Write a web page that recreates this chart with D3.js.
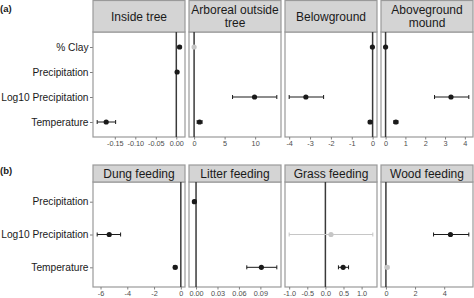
<!DOCTYPE html>
<html lang="en">
<head>
<meta charset="UTF-8">
<title>Effect estimates</title>
<style>
    body { margin: 0; background: #fff; }
    svg { display: block; font-family: "Liberation Sans", Arial, sans-serif; }
    .axis path { display: none; }
    .axis line { stroke: #7f7f7f; }
    .xaxis text { font-size: 7.3px; fill: #4d4d4d; }
    .yaxis text { font-size: 10.2px; fill: #1a1a1a; }
</style>
</head>
<body>
<script src="https://cdn.jsdelivr.net/npm/d3@7"></script>
<script>
// ---- data (a) ----
var predA = ["% Clay", "Precipitation", "Log10 Precipitation", "Temperature"]
var panelsA = ["Inside tree", "Arboreal outside tree", "Belowground", "Aboveground mound"]
var stripA = [["Inside tree"], ["Arboreal outside", "tree"], ["Belowground"], ["Aboveground", "mound"]]
var estA = [
    [0.008, 0.002, null, -0.171],
    [0.0, null, 9.9, 0.9],
    [-0.01, null, -3.2, -0.12],
    [0.0, null, 3.3, 0.52]
]
var lowA = [
    [0.005, 0.001, null, -0.193],
    [-0.15, null, 6.3, 0.5],
    [-0.03, null, -4.0, -0.2],
    [-0.02, null, 2.47, 0.42]
]
var highA = [
    [0.011, 0.003, null, -0.148],
    [0.15, null, 13.55, 1.3],
    [0.01, null, -2.35, -0.04],
    [0.02, null, 4.2, 0.62]
]
var sigA = [
    [true, true, null, true],
    [false, null, true, true],
    [true, null, true, true],
    [true, null, true, true]
]
var ticksA = [[-0.15, -0.10, -0.05, 0.00], [0, 5, 10], [-4, -3, -2, -1, 0], [0, 1, 2, 3, 4]]
var fmtA = [".2f", "d", "d", "d"]

// ---- data (b) ----
var predB = ["Precipitation", "Log10 Precipitation", "Temperature"]
var panelsB = ["Dung feeding", "Litter feeding", "Grass feeding", "Wood feeding"]
var estB = [
    [null, -5.35, -0.42],
    [-0.0023, null, 0.0914],
    [null, 0.155, 0.49],
    [null, 4.43, 0.09]
]
var lowB = [
    [null, -6.25, -0.55],
    [-0.004, null, 0.071],
    [null, -1.0, 0.36],
    [null, 3.27, -0.05]
]
var highB = [
    [null, -4.5, -0.3],
    [-0.0006, null, 0.113],
    [null, 1.31, 0.64],
    [null, 5.69, 0.2]
]
var sigB = [
    [null, true, true],
    [true, null, true],
    [null, false, true],
    [null, true, false]
]
var ticksB = [[-6, -4, -2, 0], [0.00, 0.03, 0.06, 0.09], [-1.0, -0.5, 0.0, 0.5, 1.0], [0, 2, 4]]
var fmtB = ["d", ".2f", ".1f", "d"]

// ---- layout ----
var width = 474, height = 298
var panelX = [93, 189, 285, 381], panelW = 92
var rows = [
    {label: "(a)", labelY: 12, stripTop: 0.5, stripH: 31.5, top: 32, bottom: 137,
     preds: predA, strips: stripA, est: estA, low: lowA, high: highA, sig: sigA, ticks: ticksA, fmt: fmtA},
    {label: "(b)", labelY: 174, stripTop: 165, stripH: 17, top: 182, bottom: 287,
     preds: predB, strips: panelsB.map(function(d){ return [d] }), est: estB, low: lowB, high: highB, sig: sigB, ticks: ticksB, fmt: fmtB}
]

var svg = d3.select("body").append("svg")
    .attr("width", width)
    .attr("height", height)

var dark = "#1a1a1a", light = "#c6c6c6", border = "#9a9a9a"

rows.forEach(function(row) {
    // row tag
    svg.append("text")
        .attr("x", 0).attr("y", row.labelY)
        .attr("font-size", 9.5).attr("font-weight", "bold")
        .attr("fill", dark)
        .text(row.label)

    var y = d3.scalePoint()
        .domain(row.preds)
        .range([row.top, row.bottom])
        .padding(0.6)

    // y axis on the first panel
    svg.append("g")
        .attr("class", "axis yaxis")
        .attr("transform", "translate(" + panelX[0] + ",0)")
        .call(d3.axisLeft(y).tickSize(3).tickPadding(1.5))

    panelX.forEach(function(px, p) {
        var vals = []
        row.low[p].forEach(function(v){ if (v !== null) vals.push(v) })
        row.high[p].forEach(function(v){ if (v !== null) vals.push(v) })
        vals.push(0)
        var lo = d3.min(vals), hi = d3.max(vals), pad = (hi - lo) * 0.05
        var x = d3.scaleLinear().domain([lo - pad, hi + pad]).range([px, px + panelW])

        var g = svg.append("g")

        // panel background + border
        g.append("rect")
            .attr("x", px).attr("y", row.top)
            .attr("width", panelW).attr("height", row.bottom - row.top)
            .attr("fill", "#fff").attr("stroke", border).attr("stroke-width", 1.2)

        // strip
        g.append("rect")
            .attr("x", px).attr("y", row.stripTop)
            .attr("width", panelW).attr("height", row.top - row.stripTop)
            .attr("fill", "#d4d4d4").attr("stroke", border).attr("stroke-width", 1.2)
        var lines = row.strips[p]
        var mid = (row.stripTop + row.top) / 2
        lines.forEach(function(t, i) {
            g.append("text")
                .attr("x", px + panelW / 2)
                .attr("y", mid + (i - (lines.length - 1) / 2) * 13)
                .attr("dy", "0.36em")
                .attr("text-anchor", "middle")
                .attr("font-size", 12)
                .attr("fill", dark)
                .text(t)
        })

        // zero line
        g.append("line")
            .attr("x1", x(0)).attr("x2", x(0))
            .attr("y1", row.top).attr("y2", row.bottom)
            .attr("stroke", "#3a3a3a").attr("stroke-width", 1.5)

        // estimates
        row.preds.forEach(function(name, i) {
            var e = row.est[p][i]
            if (e === null) return
            var col = row.sig[p][i] ? dark : light
            var yy = y(name)
            g.append("line")
                .attr("x1", x(row.low[p][i])).attr("x2", x(row.high[p][i]))
                .attr("y1", yy).attr("y2", yy)
                .attr("stroke", col).attr("stroke-width", 1)
            ;[row.low[p][i], row.high[p][i]].forEach(function(v) {
                g.append("line")
                    .attr("x1", x(v)).attr("x2", x(v))
                    .attr("y1", yy - 2).attr("y2", yy + 2)
                    .attr("stroke", col).attr("stroke-width", 1)
            })
            g.append("circle")
                .attr("cx", x(e)).attr("cy", yy).attr("r", 2.6)
                .attr("fill", col)
        })

        // x axis
        var f = d3.format(row.fmt[p])
        svg.append("g")
            .attr("class", "axis xaxis")
            .attr("transform", "translate(0," + row.bottom + ")")
            .call(d3.axisBottom(x)
                .tickValues(row.ticks[p])
                .tickSize(2.5)
                .tickPadding(1.5)
                .tickFormat(function(d){ return f(d).replace("\u2212", "-") }))
    })
})
</script>
</body>
</html>
